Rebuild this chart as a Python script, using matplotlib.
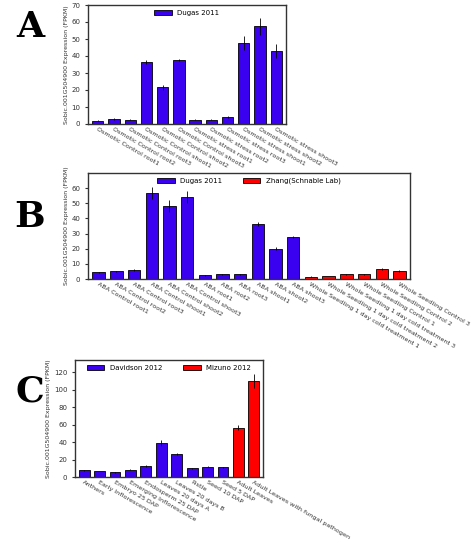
import matplotlib
matplotlib.use("Agg")
import matplotlib.pyplot as plt
import numpy as np

a_labels = ["Osmotic Control root1","Osmotic Control root2","Osmotic Control root3","Osmotic Control shoot1","Osmotic Control shoot2","Osmotic Control shoot3","Osmotic stress root1","Osmotic stress root2","Osmotic stress root3","Osmotic stress shoot1","Osmotic stress shoot2","Osmotic stress shoot3"]
a_vals = [2, 3, 2.5, 36.5, 21.5, 37.5, 2.5, 2.5, 4, 47.5, 57.5, 43]
a_err = [0.4, 0.4, 0.3, 1.0, 1.5, 0.5, 0.3, 0.3, 0.5, 4, 5, 4]
a_groups = ["Dugas 2011"]*12

b_labels = ["ABA Control root1","ABA Control root2","ABA Control root3","ABA Control shoot1","ABA Control shoot2","ABA Control shoot3","ABA root1","ABA root2","ABA root3","ABA shoot1","ABA shoot2","ABA shoot3","Whole Seedling 1 day cold treatment 1","Whole Seedling 1 day cold treatment 2","Whole Seedling 1 day cold treatment 3","Whole Seedling Control 1","Whole Seedling Control 2","Whole Seedling Control 3"]
b_vals = [4.5, 5, 6, 57, 48.5, 54, 2.5, 3, 3, 36.5, 20, 28, 1.5, 2, 3, 3, 6.5, 5.5]
b_err = [0.4, 0.5, 0.5, 4, 4, 4, 0.3, 0.3, 0.3, 1.2, 1.0, 0.6, 0.2, 0.2, 0.5, 0.5, 0.8, 0.6]
b_groups = ["Dugas 2011"]*12 + ["Zhang(Schnable Lab)"]*6

c_labels = ["Anthers","Early Inflorescence","Embryo 25 DAP","Emerging Inflorescence","Endosperm 25 DAP","Leaves 20 days A","Leaves 20 days B","Pistle","Seed 10 DAP","Seed 5 DAP","Adult Leaves","Adult Leaves with fungal pathogen"]
c_vals = [7.5, 7, 5.5, 8.5, 12.5, 39, 26.5, 10, 12, 11, 56.5, 110]
c_err = [0.5, 0.4, 0.4, 0.6, 1.0, 3, 0.8, 0.5, 0.8, 0.6, 3, 8]
c_groups = ["Davidson 2012"]*10 + ["Mizuno 2012"]*2

BLUE = "#3a00f0"
RED = "#ff0000"
W, H = 474, 542
fig = plt.figure(figsize=(W/100, H/100), dpi=100)

def panel(rect, labels, vals, err, groups, ymax, letter, ly, yticks):
    x0, y0, x1, y1 = rect
    ax = fig.add_axes([x0/W, 1-y1/H, (x1-x0)/W, (y1-y0)/H])
    x = np.arange(len(vals))
    for g, col in zip(dict.fromkeys(groups), [BLUE, RED]):
        idx = [i for i, gg in enumerate(groups) if gg == g]
        ax.bar(x[idx], [vals[i] for i in idx], 0.7, yerr=[err[i] for i in idx],
               color=col, edgecolor="black", linewidth=0.6, ecolor="black",
               error_kw=dict(elinewidth=0.6, capsize=0), label=g)
    ax.set_xlim(-0.6, len(vals)-0.4)
    ax.set_ylim(0, ymax)
    ax.set_yticks(yticks)
    ax.set_xticks(x)
    ax.set_xticklabels(labels, rotation=-30, ha="left", rotation_mode="anchor", fontsize=4.6, color="#333333")
    ax.tick_params(axis="y", labelsize=5, length=2, colors="#333333")
    ax.tick_params(axis="x", length=0, pad=2)
    ax.set_ylabel("Sobic.001G504900 Expression (FPKM)", fontsize=4.5, color="#333333", labelpad=2)
    ax.legend(loc="upper center", ncol=2, fontsize=5, frameon=False, handlelength=2.5, handleheight=0.8,
              borderaxespad=0.3, columnspacing=3)
    for s in ax.spines.values():
        s.set_linewidth(1.0)
        s.set_color("#333333")
    fig.text(30/W, 1-ly/H, letter, fontsize=26, fontweight="bold", family="DejaVu Serif", ha="center", va="center")
    return ax

panel((88, 5, 286, 124), a_labels, a_vals, a_err, a_groups, 70, "A", 27, range(0, 71, 10))
panel((88, 173, 410, 279), b_labels, b_vals, b_err, b_groups, 70, "B", 217, range(0, 61, 10))
panel((75, 360, 263, 477), c_labels, c_vals, c_err, c_groups, 134, "C", 392, range(0, 121, 20))

fig.savefig("out.png", dpi=100, facecolor="white")
